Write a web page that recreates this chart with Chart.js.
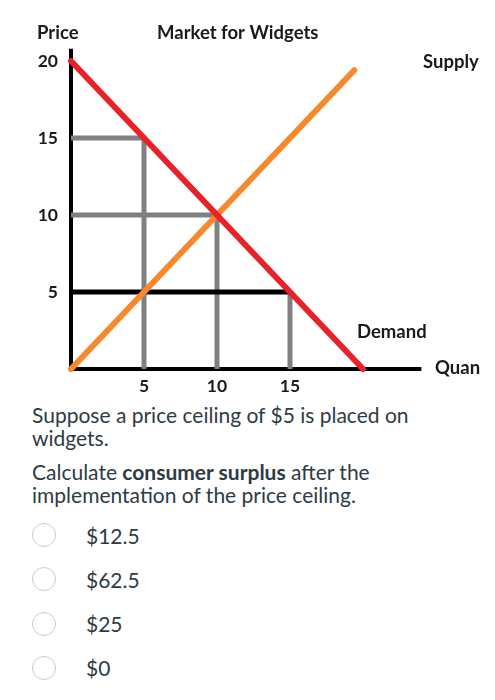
<!DOCTYPE html>
<html>
<head>
<meta charset="utf-8">
<script src="https://cdn.jsdelivr.net/npm/chart.js@4.4.1/dist/chart.umd.min.js"></script>
<style>
  html, body { margin:0; padding:0; background:#fff; width:495px; height:700px; overflow:hidden; }
  #wrap { position:absolute; left:0; top:0; width:495px; height:400px; }
  .q { position:absolute; left:32px; width:385px; font-family:Lato, sans-serif; font-size:21px; line-height:23px; color:#2d3b45; }
  .q b { font-weight:700; }
  .opt { position:absolute; left:32px; height:30px; display:flex; align-items:center; font-family:Lato, sans-serif; font-size:21px; color:#2d3b45; }
  .opt .c { width:24px; height:24px; border:1.5px solid #c7cdd1; border-radius:50%; box-sizing:border-box; margin-right:30px; }
</style>
</head>
<body>
<div id="wrap"><canvas id="c" width="495" height="400"></canvas></div>
<div class="q" style="top:403px;">Suppose a price ceiling of $5 is placed on widgets.</div>
<div class="q" style="top:460px;">Calculate <b>consumer surplus</b> after the implementation of the price ceiling.</div>
<div id="opts"></div>
<script>
// ---- data ----
const qtyTicks = [5, 10, 15];
const priceTicks = [5, 10, 15, 20];
const demandQ = [0, 20];
const demandP = [20, 0];
const supplyQ = [0, 19.4];
const supplyP = [0, 19.4];
const ceilingQ = [0, 15];
const ceilingP = [5, 5];
const guideH15Q = [0, 5],  guideH15P = [15, 15];
const guideV5Q  = [5, 5],  guideV5P  = [0, 15];
const guideH10Q = [0, 10], guideH10P = [10, 10];
const guideV10Q = [10, 10],guideV10P = [0, 10];
const guideV15Q = [15, 15],guideV15P = [0, 5];
const axisXQ = [0, 24], axisXP = [0, 0];
const axisYQ = [0, 0],  axisYP = [0, 20.8];
const answers = ["$12.5", "$62.5", "$25", "$0"];

function pts(qs, ps) { return qs.map((q, i) => ({ x: q, y: ps[i] })); }
function ds(qs, ps, color, w, cap) {
  return { data: pts(qs, ps), borderColor: color, borderWidth: w, pointRadius: 0,
           borderCapStyle: cap || 'butt', fill: false, clip: false, tension: 0 };
}

const labelPlugin = {
  id: 'labels',
  afterDatasetsDraw(chart) {
    const ctx = chart.ctx, xs = chart.scales.x, ys = chart.scales.y;
    ctx.save();
    ctx.fillStyle = '#1a1a1a';
    ctx.font = 'bold 17.5px Lato, sans-serif';
    ctx.textBaseline = 'middle';
    ctx.textAlign = 'right';
    priceTicks.forEach(v => ctx.fillText(String(v), 58, ys.getPixelForValue(v)));
    ctx.textAlign = 'center';
    qtyTicks.forEach(v => ctx.fillText(String(v), xs.getPixelForValue(v), 386));
    ctx.font = 'bold 18.5px Lato, sans-serif';
    ctx.textAlign = 'left';
    ctx.fillText('Price', 37, 33);
    ctx.fillText('Market for Widgets', 157, 33);
    ctx.fillText('Supply', 423, 62);
    ctx.fillText('Demand', 357, 332);
    ctx.fillText('Quan', 435, 368);
    ctx.restore();
  }
};

new Chart(document.getElementById('c'), {
  type: 'line',
  data: {
    datasets: [
      ds(demandQ, demandP, '#e8212b', 6, 'round'),
      ds(supplyQ, supplyP, '#f7892c', 6, 'round'),
      ds(ceilingQ, ceilingP, '#000000', 5),
      ds(guideH15Q, guideH15P, '#808080', 5),
      ds(guideV5Q, guideV5P, '#808080', 5),
      ds(guideH10Q, guideH10P, '#808080', 5),
      ds(guideV10Q, guideV10P, '#808080', 5),
      ds(guideV15Q, guideV15P, '#808080', 5),
      ds(axisXQ, axisXP, '#000000', 4),
      ds(axisYQ, axisYP, '#000000', 4)
    ]
  },
  options: {
    responsive: false,
    animation: false,
    devicePixelRatio: 1,
    layout: { padding: { left: 71, right: 73.6, top: 48.7, bottom: 31 } },
    plugins: { legend: { display: false }, tooltip: { enabled: false }, title: { display: false } },
    scales: {
      x: { type: 'linear', min: 0, max: 24, display: false },
      y: { type: 'linear', min: 0, max: 20.8, display: false }
    }
  },
  plugins: [labelPlugin]
});

const optBox = document.getElementById('opts');
answers.forEach((a, i) => {
  const d = document.createElement('div');
  d.className = 'opt';
  d.style.top = (520 + i * 44.3) + 'px';
  d.innerHTML = '<span class="c"></span><span>' + a + '</span>';
  optBox.appendChild(d);
});
</script>
</body>
</html>
